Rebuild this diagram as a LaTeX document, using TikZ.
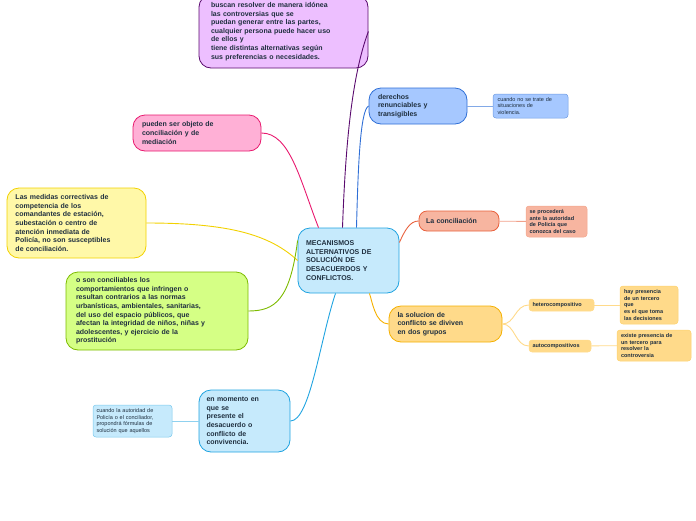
\documentclass[tikz,border=0pt]{standalone}
\usepackage{fontspec}
\setmainfont{Liberation Sans}
\usetikzlibrary{positioning}
\definecolor{cpurple}{HTML}{EDBFFF}
\definecolor{dpurple}{HTML}{5A0A6E}
\definecolor{cblue}{HTML}{A6C8FF}
\definecolor{dblue}{HTML}{2F6FD6}
\definecolor{csalmon}{HTML}{F7B5A0}
\definecolor{dsalmon}{HTML}{E8603C}
\definecolor{ccyan}{HTML}{C6EAFC}
\definecolor{dcyan}{HTML}{1FA3E0}
\definecolor{cyel}{HTML}{FFDA8A}
\definecolor{dyel}{HTML}{F5B000}
\definecolor{cpink}{HTML}{FFB0D6}
\definecolor{dpink}{HTML}{E8196E}
\definecolor{clemon}{HTML}{FFF8A8}
\definecolor{dlemon}{HTML}{F2D100}
\definecolor{cgreen}{HTML}{D5FF85}
\definecolor{dgreen}{HTML}{7DBB00}
\definecolor{dtext}{HTML}{1F2F3F}
\tikzset{
  topic/.style={draw, rounded corners=12pt, line width=0.8pt, align=left, inner sep=0pt,
    font=\fontsize{7}{8.6}\selectfont\bfseries, text=dtext},
  note/.style={draw, rounded corners=3pt, line width=0.5pt, align=left, inner sep=0pt,
    font=\fontsize{5.5}{6.6}\selectfont, text=dtext},
  sub/.style={draw, rounded corners=3pt, line width=0.5pt, align=left, inner sep=0pt,
    font=\fontsize{5.5}{6.6}\selectfont\bfseries, text=dtext},
  link/.style={line width=0.9pt}
}
\begin{document}
\begin{tikzpicture}[x=1pt,y=-1pt]
  \useasboundingbox (0,0) rectangle (696,520);
  % nodes
  \node[topic, fill=ccyan, draw=dcyan, minimum width=101pt, minimum height=65pt, text width=85pt] (main) at (348.5,260.5)
    {MECANISMOS\\ALTERNATIVOS DE\\SOLUCIÓN DE\\DESACUERDOS Y\\CONFLICTOS.};
  \node[topic, fill=cpurple, draw=dpurple, minimum width=169pt, minimum height=73pt, text width=145pt] (fin) at (283.5,31.5)
    {buscan resolver de manera idónea\\las controversias que se\\puedan generar entre las partes,\\cualquier persona puede hacer uso\\de ellos y\\tiene distintas alternativas según\\sus preferencias o necesidades.};
  \node[topic, fill=cblue, draw=dblue, minimum width=98pt, minimum height=36pt, text width=80pt] (der) at (418,106)
    {derechos\\renunciables y\\transigibles};
  \node[note, fill=cblue, draw=dblue!70, minimum width=75pt, minimum height=24pt, text width=66pt] (dern) at (530.5,106)
    {cuando no se trate de\\situaciones de\\violencia.};
  \node[topic, fill=csalmon, draw=dsalmon, rounded corners=8pt, minimum width=80pt, minimum height=20pt, text width=66pt] (conc) at (459,221)
    {La conciliación};
  \node[sub, fill=csalmon, draw=csalmon!80!dsalmon, minimum width=61pt, minimum height=31pt, text width=54pt] (concn) at (556.5,221.5)
    {se procederá\\ante la autoridad\\de Policía que\\conozca del caso};
  \node[topic, fill=cyel, draw=dyel, minimum width=113pt, minimum height=36pt, text width=96pt] (sol) at (445.5,324)
    {la solucion de\\conflicto se diviven\\en dos grupos};
  \node[sub, fill=cyel, draw=cyel, minimum width=65pt, minimum height=12pt, text width=58pt] (het) at (561.5,305)
    {heterocompositivo};
  \node[sub, fill=cyel, draw=cyel, minimum width=62pt, minimum height=12pt, text width=55pt] (aut) at (560,346)
    {autocompositivos};
  \node[sub, fill=cyel, draw=cyel!80!dyel, minimum width=58pt, minimum height=38pt, text width=50pt] (hetn) at (649,305)
    {hay presencia\\de un tercero\\que\\es el que toma\\las decisiones};
  \node[sub, fill=cyel, draw=cyel!80!dyel, minimum width=74pt, minimum height=31pt, text width=66pt] (autn) at (654,345.5)
    {existe presencia de\\un tercero para\\resolver la\\controversia};
  \node[topic, fill=cpink, draw=dpink, minimum width=128pt, minimum height=36pt, text width=110pt] (obj) at (197,133)
    {pueden ser objeto de\\conciliación y de\\mediación};
  \node[topic, fill=clemon, draw=dlemon, minimum width=139pt, minimum height=70pt, text width=122pt] (med) at (76.5,223)
    {Las medidas correctivas de\\competencia de los\\comandantes de estación,\\subestación o centro de\\atención inmediata de\\Policía, no son susceptibles\\de conciliación.};
  \node[topic, fill=cgreen, draw=dgreen, minimum width=182pt, minimum height=78pt, text width=162pt] (comp) at (157,311)
    {o son conciliables los\\comportamientos que infringen o\\resultan contrarios a las normas\\urbanísticas, ambientales, sanitarias,\\del uso del espacio públicos, que\\afectan la integridad de niños, niñas y\\adolescentes, y ejercicio de la\\prostitución};
  \node[topic, fill=ccyan, draw=dcyan, minimum width=91pt, minimum height=62pt, text width=76pt] (mom) at (244.5,421)
    {en momento en\\que se\\presente el\\desacuerdo o\\conflicto de\\convivencia.};
  \node[note, fill=ccyan, draw=dcyan!60, minimum width=79pt, minimum height=32pt, text width=72pt] (momn) at (132.5,421)
    {cuando la autoridad de\\Policía o el conciliador,\\propondrá fórmulas de\\solución que aquellos};
  % links
  \draw[link, dpurple] (main.north) ++(-6,0) .. controls (345,160) and (350,80) .. (fin.east);
  \draw[link, dblue] (main.north) ++(8,0) .. controls (358,170) and (360,110) .. (der.west);
  \draw[link, dblue!60] (der) -- (dern);
  \draw[link, dsalmon] (main.east) ++(0,-18) .. controls (405,230) and (410,221) .. (conc.west);
  \draw[link, dsalmon!60] (conc) -- (concn);
  \draw[link, dyel] (main.south east) ++(-30,0) .. controls (372,300) and (375,324) .. (sol.west);
  \draw[link, cyel] (sol.east) .. controls (515,324) and (515,305) .. (het.west);
  \draw[link, cyel] (sol.east) .. controls (515,324) and (515,346) .. (aut.west);
  \draw[link, cyel] (het) -- (hetn);
  \draw[link, cyel] (aut) -- (autn);
  \draw[link, dpink] (obj.east) .. controls (290,133) and (300,180) .. ([xshift=-30pt]main.north);
  \draw[link, dlemon] (med.east) .. controls (230,223) and (270,235) .. (main.west);
  \draw[link, dgreen] (comp.east) .. controls (275,311) and (290,300) .. ([yshift=20pt]main.west);
  \draw[link, dcyan] ([xshift=-13pt]main.south) .. controls (320,340) and (310,421) .. (mom.east);
  \draw[link, dcyan!50] (momn) -- (mom);
\end{tikzpicture}
\end{document}
